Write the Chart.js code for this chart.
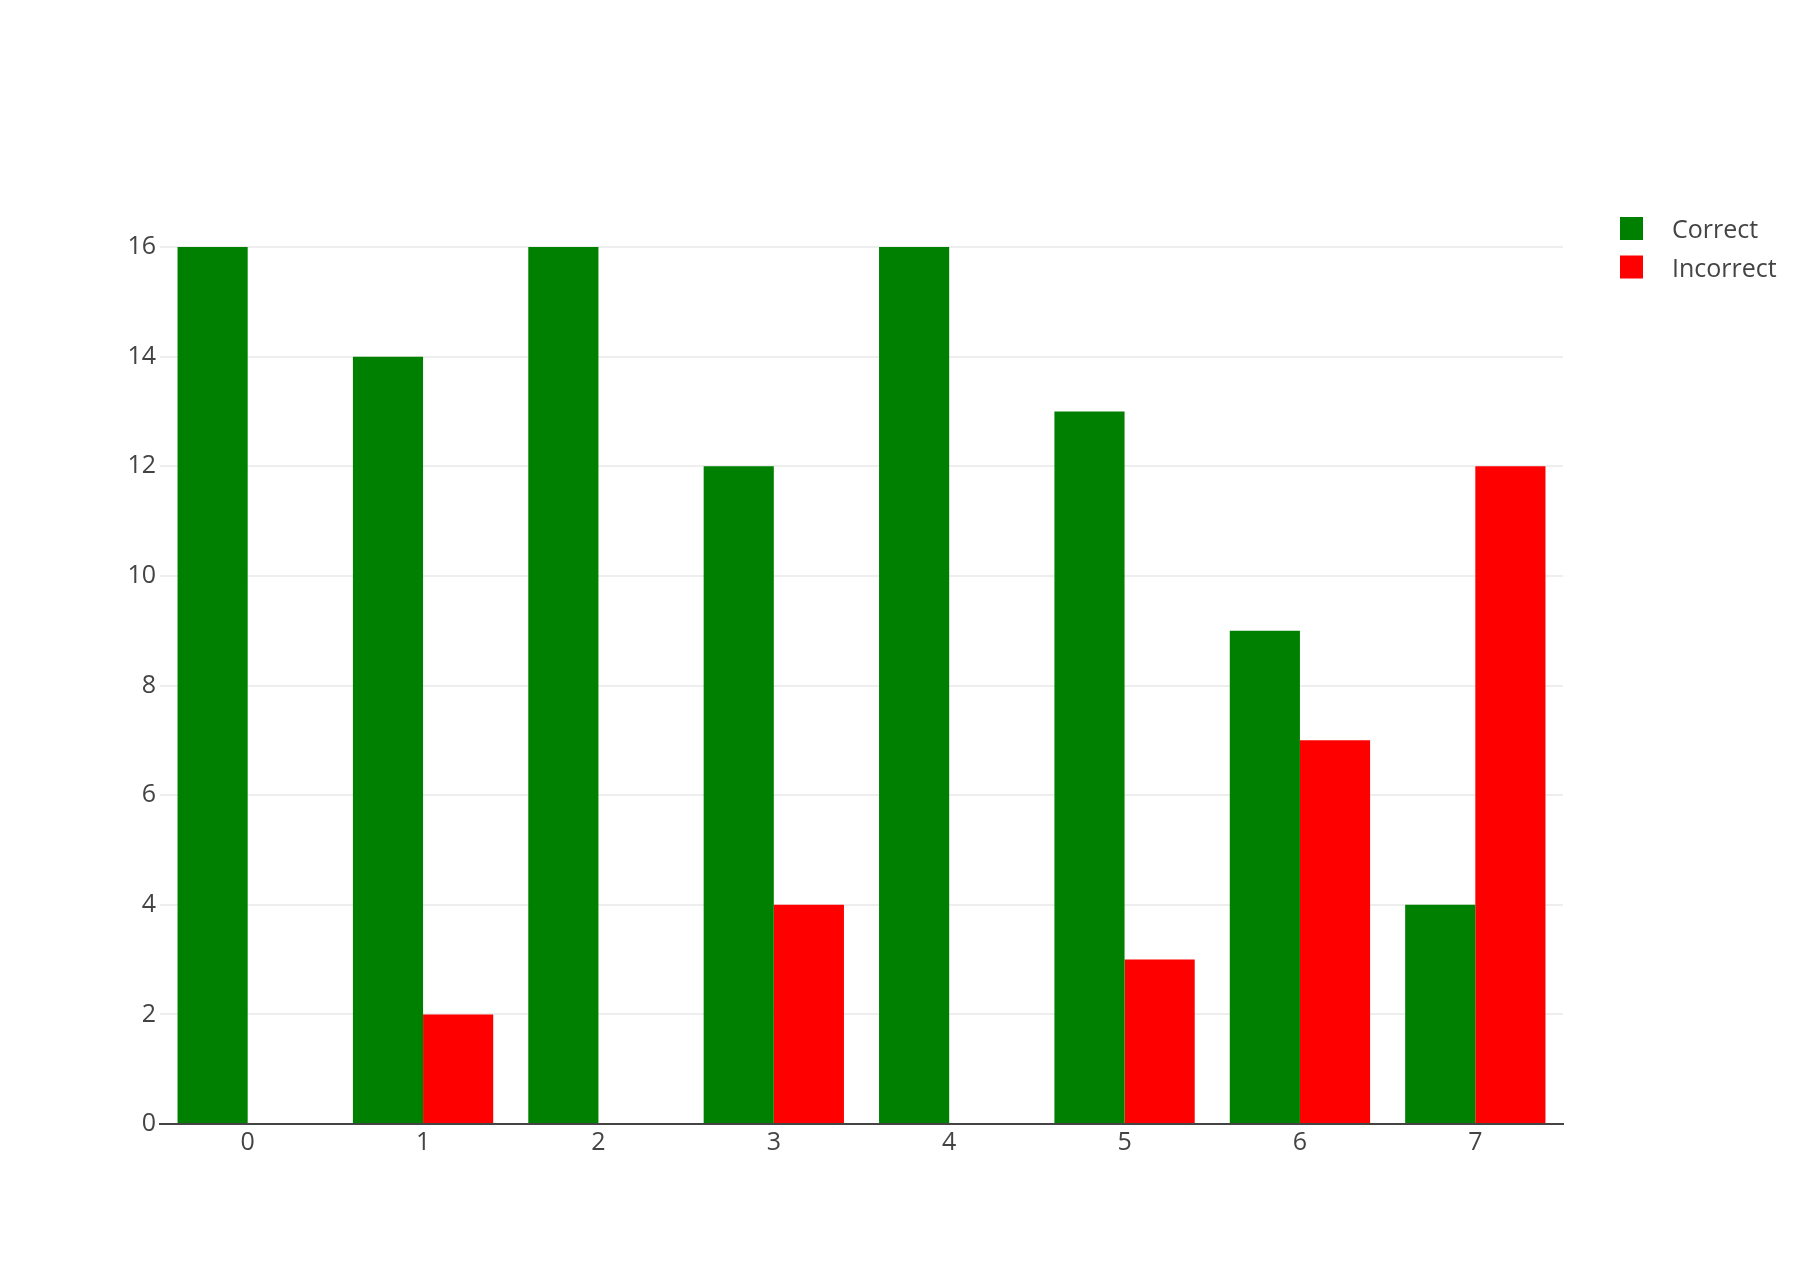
<!DOCTYPE html>
<html>
<head>
<meta charset="utf-8">
<script src="https://cdn.jsdelivr.net/npm/chart.js@4.4.0/dist/chart.umd.min.js"></script>
<style>
  html, body { margin: 0; padding: 0; background: #fff; }
  #wrap { width: 1810px; height: 1284px; }
</style>
</head>
<body>
<div id="wrap"><canvas id="c" width="1810" height="1284"></canvas></div>
<script>
const categories = ['0', '1', '2', '3', '4', '5', '6', '7'];
const correctValues = [16, 14, 16, 12, 16, 13, 9, 4];
const incorrectValues = [0, 2, 0, 4, 0, 3, 7, 12];
const yTickValues = [0, 2, 4, 6, 8, 10, 12, 14, 16];
const seriesLabels = ['Correct', 'Incorrect'];
const seriesColors = ['#008000', '#ff0000'];

const FONT = '"Open Sans", verdana, arial, sans-serif';
const TEXT = '#444444';

const legendPlugin = {
  id: 'plotlyLegend',
  afterDraw(chart) {
    const ctx = chart.ctx;
    const area = chart.chartArea;
    const boxX = area.right + 57;
    const textX = area.right + 109;
    let y = area.top + 16;
    ctx.save();
    ctx.font = '25px ' + FONT;
    ctx.textBaseline = 'middle';
    ctx.textAlign = 'left';
    chart.data.datasets.forEach((ds) => {
      ctx.fillStyle = ds.backgroundColor;
      ctx.fillRect(boxX, y, 23, 23);
      ctx.fillStyle = TEXT;
      ctx.fillText(ds.label, textX, y + 14);
      y += 38.5;
    });
    ctx.restore();
  }
};

new Chart(document.getElementById('c'), {
  type: 'bar',
  data: {
    labels: categories,
    datasets: [
      { label: seriesLabels[0], data: correctValues, backgroundColor: seriesColors[0], borderWidth: 0 },
      { label: seriesLabels[1], data: incorrectValues, backgroundColor: seriesColors[1], borderWidth: 0 }
    ]
  },
  options: {
    responsive: false,
    animation: false,
    devicePixelRatio: 1,
    categoryPercentage: 0.8,
    barPercentage: 1.0,
    layout: { padding: { left: 0, right: 247, top: 201, bottom: 100 } },
    plugins: {
      legend: { display: false },
      tooltip: { enabled: false }
    },
    scales: {
      x: {
        grid: { display: false, drawTicks: false },
        border: { display: true, color: '#444444', width: 2 },
        ticks: { color: TEXT, font: { family: FONT, size: 25 }, padding: 4, maxRotation: 0 },
        afterFit(scale) { scale.height = 60; }
      },
      y: {
        min: 0,
        max: 16.84,
        grid: { color: '#eeeeee', lineWidth: 2, drawTicks: false },
        border: { display: false },
        ticks: { color: TEXT, font: { family: FONT, size: 25 }, padding: 4 },
        afterBuildTicks(scale) { scale.ticks = yTickValues.map(v => ({ value: v })); },
        afterFit(scale) { scale.width = 160; }
      }
    }
  },
  plugins: [legendPlugin]
});
</script>
</body>
</html>
